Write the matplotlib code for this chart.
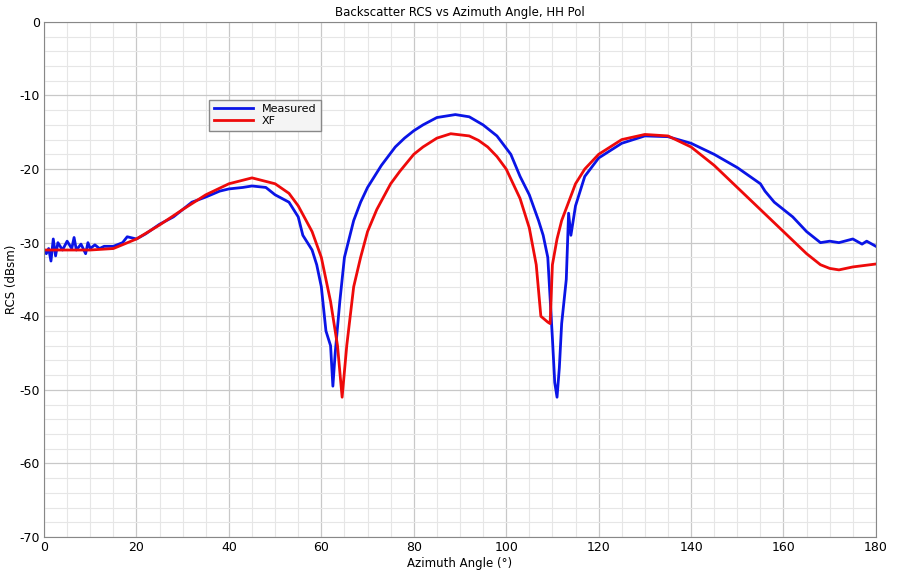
import matplotlib
matplotlib.use("Agg")
import matplotlib.pyplot as plt
from matplotlib.ticker import MultipleLocator

plt.rcParams["axes.unicode_minus"] = False

xf_x = [0, 5, 10, 15, 20, 25, 30, 35, 40, 45, 50, 53, 55, 58, 60, 62, 63.5, 64.5, 65.5, 67, 68.5, 70, 72, 75, 77, 80, 82, 85, 88, 92, 94, 96, 98, 100, 103, 105, 106.5, 107.5, 109, 109.5, 110, 111, 112, 115, 117, 120, 125, 130, 135, 140, 145, 150, 155, 160, 165, 168, 170, 172, 175, 180]
xf_y = [-31, -31, -31, -30.8, -29.5, -27.6, -25.5, -23.5, -22, -21.2, -22, -23.3, -25, -28.5, -32, -38, -44, -51, -44, -36, -32, -28.5, -25.5, -22, -20.3, -18, -17, -15.8, -15.2, -15.5, -16.1, -17, -18.3, -20, -24, -28, -33, -40, -40.8, -41, -33, -29.5, -27, -22, -20, -18, -16, -15.3, -15.5, -17, -19.5, -22.5, -25.5, -28.5, -31.5, -33, -33.5, -33.7, -33.3, -32.9]

meas_x = [0, 0.5, 1, 1.5, 2, 2.5, 3, 3.5, 4, 5, 6, 6.5, 7, 8, 9, 9.5, 10, 11, 12, 13, 15, 17, 18, 20, 22, 25, 28, 30, 32, 35, 38, 40, 43, 45, 48, 50, 53, 55, 56, 57, 58, 59, 60, 61, 62, 62.5, 63, 64, 65, 67, 68.5, 70, 73, 76, 78, 80, 82, 85, 89, 92, 95, 98, 101, 103, 105, 107, 108, 109, 110, 110.5, 111, 111.5, 112, 113, 113.5, 114, 115, 117, 120, 125, 130, 135, 140, 145, 150, 155, 156, 158, 160, 162, 165, 168, 170, 172, 175, 177, 178, 180]
meas_y = [-31, -31.5, -30.8, -32.5, -29.5, -31.8, -30, -30.5, -31, -29.8, -30.8, -29.3, -31, -30.2, -31.5, -30, -30.8, -30.3, -30.8, -30.5, -30.5, -30, -29.2, -29.5, -28.8, -27.5, -26.5, -25.5, -24.5, -23.8, -23, -22.7, -22.5, -22.3, -22.5, -23.5, -24.5, -26.5, -29, -30, -31, -33, -36, -42, -44, -49.5, -45, -38, -32, -27, -24.5, -22.5, -19.5, -17, -15.8, -14.8, -14, -13, -12.6, -12.9, -14, -15.5, -18, -21, -23.5, -27, -29, -32, -43, -49, -51, -47, -41, -35, -26, -29, -25, -21, -18.5, -16.5, -15.5, -15.6, -16.5, -18, -19.8, -22, -23, -24.5, -25.5, -26.5, -28.5, -30, -29.8, -30, -29.5, -30.2, -29.8, -30.5]

fig = plt.figure(figsize=(9.23, 5.75), dpi=100)
ax = fig.add_axes([0.0477, 0.066, 0.9013, 0.896])
ax.plot(meas_x, meas_y, color="#0a14e6", lw=2, label="Measured")
ax.plot(xf_x, xf_y, color="#ee0a0a", lw=2, label="XF")
ax.set_xlim(0, 180)
ax.set_ylim(-70, 0)
ax.xaxis.set_major_locator(MultipleLocator(20))
ax.xaxis.set_minor_locator(MultipleLocator(5))
ax.yaxis.set_major_locator(MultipleLocator(10))
ax.yaxis.set_minor_locator(MultipleLocator(2))
ax.grid(which="major", color="#c8c8c8", lw=0.9)
ax.grid(which="minor", color="#e6e6e6", lw=0.8)
ax.tick_params(which="both", length=0, labelsize=9, pad=3)
for s in ax.spines.values():
    s.set_color("#888888")
ax.set_title("Backscatter RCS vs Azimuth Angle, HH Pol", fontsize=8.5, pad=4)
ax.set_xlabel("Azimuth Angle (°)", fontsize=8.5, labelpad=2)
ax.set_ylabel("RCS (dBsm)", fontsize=8.5, labelpad=1)
leg = ax.legend(loc="upper left", bbox_to_anchor=(0.192, 0.86), fontsize=8, fancybox=False,
                framealpha=1, edgecolor="#888888", facecolor="#f4f4f4", handlelength=3.5, borderpad=0.4, labelspacing=0.2)
fig.savefig("out.png", dpi=100, facecolor="white")
